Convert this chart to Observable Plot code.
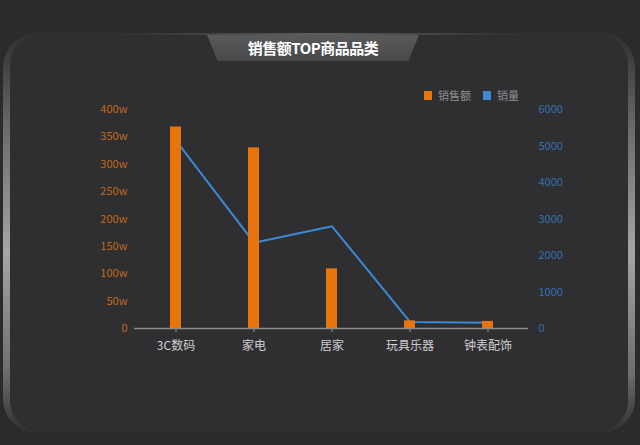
<!DOCTYPE html>
<html>
<head>
<meta charset="utf-8">
<script src="https://cdn.jsdelivr.net/npm/d3@7"></script>
<script src="https://cdn.jsdelivr.net/npm/@observablehq/plot@0.6"></script>
<style>
  html, body { margin: 0; padding: 0; background: #2b2a2c; width: 640px; height: 445px; overflow: hidden; }
  #wrap { position: relative; width: 640px; height: 445px; font-family: "Noto Sans CJK SC", "Noto Sans", sans-serif; }
  #frame { position: absolute; left: 3px; top: 33px; width: 632px; height: 400px; border-radius: 34px;
    background: linear-gradient(to bottom, #2f2f31 0%, #6d6d70 25%, #a5a5a8 55%, #6d6d70 85%, #2f2f31 100%); }
  #inner { position: absolute; left: 7px; top: 2px; right: 7px; bottom: 2px; border-radius: 30px; background: #2f2e31; }
  #topglow { position: absolute; left: 120px; top: 33px; width: 400px; height: 2px;
    background: linear-gradient(to right, rgba(90,90,92,0), #5e5e60 50%, rgba(90,90,92,0)); }
  #tab { position: absolute; left: 207px; top: 35px; width: 212px; height: 26px;
    clip-path: polygon(0 0, 100% 0, 95% 100%, 5% 100%);
    background: linear-gradient(to bottom, #5a5a5c, #48484a); }
  #title { position: absolute; left: 207px; top: 35px; width: 212px; height: 26px; line-height: 26px; text-align: center;
    color: #ffffff; font-weight: bold; font-size: 15px; letter-spacing: -0.5px; }
  #legend { position: absolute; left: 424px; top: 87px; font-size: 11px; color: #8e8e8e; display: flex; align-items: center; }
  #legend .sw { width: 8px; height: 9px; display: inline-block; margin-right: 6px; }
  #legend .it { display: flex; align-items: center; margin-right: 12px; }
  #chart { position: absolute; left: 0; top: 0; }
</style>
</head>
<body>
<div id="wrap">
  <div id="frame"><div id="inner"></div></div>
  <div id="topglow"></div>
  <div id="tab"></div>
  <div id="title">销售额TOP商品品类</div>
  <div id="legend"></div>
  <div id="chart"></div>
</div>
<script>
const categories = ["3C数码", "家电", "居家", "玩具乐器", "钟表配饰"];
const salesAmount = [368, 330, 109, 14, 13];      // 单位 w
const salesVolume = [5150, 2350, 2800, 180, 160];
const leftTicks = [0, 50, 100, 150, 200, 250, 300, 350, 400];
const rightTicks = [0, 1000, 2000, 3000, 4000, 5000, 6000];
const legendLabels = ["销售额", "销量"];

const orange = "#e8740e";
const blue = "#3a8ad6";
const leftMax = 400, rightMax = 6000;

const data = categories.map((c, i) => ({cat: c, amount: salesAmount[i], volume: salesVolume[i]}));

const chart = Plot.plot({
  width: 640,
  height: 445,
  marginLeft: 134,
  marginRight: 112,
  marginTop: 109,
  marginBottom: 117,
  style: {background: "transparent", fontFamily: "'Noto Sans CJK SC', 'Noto Sans', sans-serif", fontSize: "11px"},
  x: {type: "band", domain: categories, paddingInner: 0.86, paddingOuter: 0.43},
  y: {domain: [0, leftMax]},
  marks: [
    Plot.axisY(leftTicks, {anchor: "left", label: null, tickSize: 0, tickPadding: 7, fill: "#c06a1c", tickFormat: d => d === 0 ? "0" : d + "w", fontSize: 11}),
    Plot.axisY(rightTicks.map(v => v / rightMax * leftMax), {anchor: "right", label: null, tickSize: 0, tickPadding: 10, fill: "#3570b2", textAnchor: "start", tickFormat: d => String(Math.round(d / leftMax * rightMax)), fontSize: 11}),
    Plot.axisX({tickSize: 4, tickPadding: 9, stroke: "#999", fill: "#cfcfcf", fontSize: 12, label: null}),
    Plot.ruleY([0], {stroke: "#8a8a8a", strokeWidth: 1.5}),
    Plot.line(data, {x: "cat", y: d => d.volume / rightMax * leftMax, stroke: blue, strokeWidth: 2}),
    Plot.barY(data, {x: "cat", y: "amount", fill: orange})
  ]
});
document.getElementById("chart").appendChild(chart);

const lg = document.getElementById("legend");
[orange, blue].forEach((col, i) => {
  const it = document.createElement("div");
  it.className = "it";
  const sw = document.createElement("span");
  sw.className = "sw"; sw.style.background = col;
  const tx = document.createElement("span");
  tx.textContent = legendLabels[i];
  it.appendChild(sw); it.appendChild(tx);
  lg.appendChild(it);
});
</script>
</body>
</html>
